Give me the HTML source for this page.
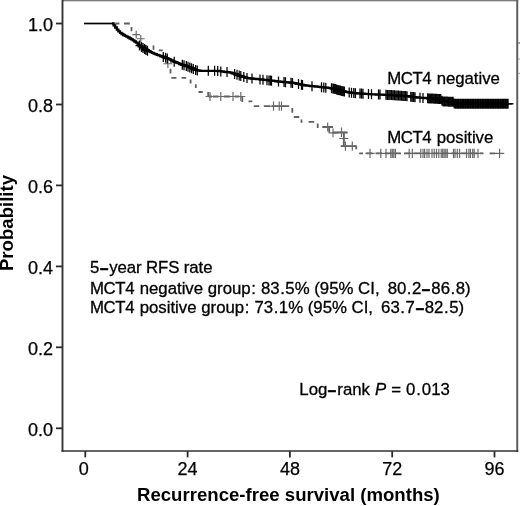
<!DOCTYPE html>
<html><head><meta charset="utf-8"><title>Recurrence-free survival</title>
<style>
html,body{margin:0;padding:0;background:#fff;}
body{width:520px;height:506px;position:relative;overflow:hidden;font-family:"Liberation Sans",sans-serif;color:#000;}
.t{position:absolute;white-space:nowrap;line-height:1;}
.yl{font-size:18px;-webkit-text-stroke:0.25px #000;width:53px;text-align:right;left:0;}
.xl{font-size:18px;-webkit-text-stroke:0.25px #000;width:40px;text-align:center;}
.in{font-size:16.8px;-webkit-text-stroke:0.3px #000;}
.h{display:inline-block;width:10px;text-align:center;transform:scale(1.85,1.4);}
.c{margin-right:3.4px;}
.m{letter-spacing:-0.4px;margin-right:0.9px;}
.p{margin:0 0.5px;}
.k{margin:0 0.4px 0 0.6px;}
.in2{font-size:16.5px;}
.b{font-weight:bold;font-size:18.6px;}
</style></head><body>
<svg width="520" height="506" viewBox="0 0 520 506" style="position:absolute;left:0;top:0">
<rect x="62" y="0" width="456.2" height="1.35" fill="#7c7c7c"/>
<path d="M517.25,0 V452" fill="none" stroke="#585858" stroke-width="1.9"/>
<path d="M62.5,0 V451.7" fill="none" stroke="#353535" stroke-width="1.9"/>
<path d="M61.55,451 H518.2" fill="none" stroke="#303030" stroke-width="1.5"/>
<path d="M518.3,43 H520" stroke="#444" stroke-width="1.2"/><path d="M518.3,59 H520 M518.3,73.3 H520" stroke="#999" stroke-width="1"/>
<path d="M56,428.3 H62.5" stroke="#2a2a2a" stroke-width="1.8"/>
<path d="M56,347.3 H62.5" stroke="#2a2a2a" stroke-width="1.8"/>
<path d="M56,266.4 H62.5" stroke="#2a2a2a" stroke-width="1.8"/>
<path d="M56,185.4 H62.5" stroke="#2a2a2a" stroke-width="1.8"/>
<path d="M56,104.5 H62.5" stroke="#2a2a2a" stroke-width="1.8"/>
<path d="M56,23.5 H62.5" stroke="#2a2a2a" stroke-width="1.8"/>
<path d="M85.3,451.2 V457.4" stroke="#2a2a2a" stroke-width="1.8"/>
<path d="M187.6,451.2 V457.4" stroke="#2a2a2a" stroke-width="1.8"/>
<path d="M289.9,451.2 V457.4" stroke="#2a2a2a" stroke-width="1.8"/>
<path d="M392.2,451.2 V457.4" stroke="#2a2a2a" stroke-width="1.8"/>
<path d="M494.5,451.2 V457.4" stroke="#2a2a2a" stroke-width="1.8"/>
<path d="M115.2,23.5H119.4M124.0,23.5H129.8M158.7,50.3H162.8M171.3,77.8H176.5M181.6,77.9H186.2M198.5,92.0H202.8M208.5,96.5H212.0M213.0,96.5H218.5M223.8,96.5H230.0M234.6,96.5H239.2M248.5,101.4H252.3M253.8,106.2H259.2M263.8,106.2H270.0M271.5,106.2H289.2M293.8,117.0H299.2M308.5,121.8H314.2M322.3,127.0H333.0M333.0,132.5H347.7M340.8,146.2H356.0M359.2,153.3H363.0M489.6,153.3H495.0M366.0,153.3H372.5M375.5,153.3H382.0M385.0,153.3H391.5M394.5,153.3H401.0M404.0,153.3H410.5M413.5,153.3H420.0M423.0,153.3H429.5M432.5,153.3H439.0M442.0,153.3H448.5M451.5,153.3H458.0M461.0,153.3H467.5M470.5,153.3H477.0M480.0,153.3H483.5M131.5,27.1V31.2M153.5,45.4V49.7M170.5,68.8V73.5M190.6,79.6V83.5M195.8,84.2V88.0M208.2,92.0V96.3M242.3,96.5V102.0M292.3,108.0V112.7M301.5,119.6V122.7M317.7,123.5V128.0M329.2,127.0V132.5M343.8,133.0V146.0M356.2,145.4V149.2" fill="none" stroke="#606060" stroke-width="1.8"/>
<path d="M136.2,30.8V38.4M132.4,34.6H140.0M140.8,34.9V42.5M137.0,38.7H144.6M167.9,59.3V68.1M163.5,63.7H172.3M210.0,92.0V101.0M205.5,96.5H214.5M220.8,92.0V101.0M216.3,96.5H225.3M233.0,92.0V101.0M228.5,96.5H237.5M240.8,92.0V101.0M236.3,96.5H245.3M273.5,101.6V110.8M268.9,106.2H278.1M279.2,101.6V110.8M274.6,106.2H283.8M281.5,101.6V110.8M276.9,106.2H286.1M327.7,122.4V131.6M323.1,127.0H332.3M333.0,128.4V137.2M328.6,132.8H337.4M341.5,127.5V137.1M336.7,132.3H346.3M343.8,133.9V143.1M339.2,138.5H348.4M345.4,141.6V150.8M340.8,146.2H350.0M352.3,141.6V150.8M347.7,146.2H356.9M370.0,148.7V157.9M365.4,153.3H374.6M380.8,148.7V157.9M376.2,153.3H385.4M386.0,148.7V157.9M381.4,153.3H390.6M390.8,148.7V157.9M386.2,153.3H395.4M392.3,148.7V157.9M387.7,153.3H396.9M393.8,148.7V157.9M389.2,153.3H398.4M395.4,148.7V157.9M390.8,153.3H400.0M409.2,148.7V157.9M404.6,153.3H413.8M412.3,148.7V157.9M407.7,153.3H416.9M420.8,148.7V157.9M416.2,153.3H425.4M423.0,148.7V157.9M418.4,153.3H427.6M424.6,148.7V157.9M420.0,153.3H429.2M427.0,148.7V157.9M422.4,153.3H431.6M429.0,148.7V157.9M424.4,153.3H433.6M432.0,148.7V157.9M427.4,153.3H436.6M434.2,148.7V157.9M429.6,153.3H438.8M436.5,148.7V157.9M431.9,153.3H441.1M438.8,148.7V157.9M434.2,153.3H443.4M441.2,148.7V157.9M436.6,153.3H445.8M442.7,148.7V157.9M438.1,153.3H447.3M444.2,148.7V157.9M439.6,153.3H448.8M445.8,148.7V157.9M441.2,153.3H450.4M447.3,148.7V157.9M442.7,153.3H451.9M453.5,148.7V157.9M448.9,153.3H458.1M455.0,148.7V157.9M450.4,153.3H459.6M457.3,148.7V157.9M452.7,153.3H461.9M459.6,148.7V157.9M455.0,153.3H464.2M466.5,148.7V157.9M461.9,153.3H471.1M468.8,148.7V157.9M464.2,153.3H473.4M470.4,148.7V157.9M465.8,153.3H475.0M472.7,148.7V157.9M468.1,153.3H477.3M474.2,148.7V157.9M469.6,153.3H478.8M478.0,148.7V157.9M473.4,153.3H482.6M499.6,148.7V157.9M495.0,153.3H504.2" fill="none" stroke="#666" stroke-width="1.15"/>
<path d="M84,23.5 H112.5" fill="none" stroke="#000" stroke-width="1.7"/>
<path d="M112.0,23.5 L113.6,23.5 L113.6,25.3 L115.2,25.3 L115.2,27.5 L116.8,27.5 L116.8,29.7 L118.4,29.7 L118.4,31.3 L120.0,31.3 L120.0,32.9 L121.6,32.9 L121.6,34.0 L123.2,34.0 L123.2,35.0 L124.8,35.0 L124.8,35.9 L126.4,35.9 L126.4,36.7 L128.0,36.7 L128.0,37.5 L129.6,37.5 L129.6,38.5 L131.2,38.5 L131.2,39.4 L132.8,39.4 L132.8,40.4 L134.4,40.4 L134.4,41.5 L136.0,41.5 L136.0,42.7 L137.6,42.7 L137.6,44.0 L139.2,44.0 L139.2,45.3 L140.8,45.3 L140.8,46.4 L142.4,46.4 L142.4,47.5 L144.0,47.5 L144.0,48.6 L145.6,48.6 L145.6,49.7 L147.2,49.7 L147.2,50.5 L148.8,50.5 L148.8,51.4 L150.4,51.4 L150.4,52.2 L152.0,52.2 L152.0,52.9 L153.6,52.9 L153.6,53.6 L155.2,53.6 L155.2,54.2 L156.8,54.2 L156.8,54.9 L158.4,54.9 L158.4,55.4 L160.0,55.4 L160.0,55.8 L161.6,55.8 L161.6,56.2 L163.2,56.2 L163.2,56.9 L164.8,56.9 L164.8,57.5 L166.4,57.5 L166.4,58.1 L168.0,58.1 L168.0,58.8 L169.6,58.8 L169.6,59.6 L171.2,59.6 L171.2,60.4 L172.8,60.4 L172.8,61.2 L174.4,61.2 L174.4,61.9 L176.0,61.9 L176.0,62.5 L177.6,62.5 L177.6,63.2 L179.2,63.2 L179.2,63.8 L180.8,63.8 L180.8,64.3 L182.4,64.3 L182.4,64.8 L184.0,64.8 L184.0,65.2 L185.6,65.2 L185.6,65.8 L187.2,65.8 L187.2,66.4 L188.8,66.4 L188.8,67.1 L190.4,67.1 L190.4,67.7 L192.0,67.7 L192.0,68.4 L193.6,68.4 L193.6,69.1 L195.2,69.1 L195.2,69.8 L196.8,69.8 L196.8,70.3 L198.4,70.3 L198.4,70.6 L200.0,70.6 L200.0,70.8 L201.6,70.8 L201.6,70.8 L203.2,70.8 L203.2,70.8 L204.8,70.8 L204.8,70.8 L206.4,70.8 L206.4,70.8 L208.0,70.8 L208.0,70.8 L209.6,70.8 L209.6,70.8 L211.2,70.8 L211.2,70.8 L212.8,70.8 L212.8,70.8 L214.4,70.8 L214.4,70.8 L216.0,70.8 L216.0,70.8 L217.6,70.8 L217.6,71.0 L219.2,71.0 L219.2,71.2 L220.8,71.2 L220.8,71.4 L222.4,71.4 L222.4,71.6 L224.0,71.6 L224.0,71.8 L225.6,71.8 L225.6,72.0 L227.2,72.0 L227.2,72.2 L228.8,72.2 L228.8,72.4 L230.4,72.4 L230.4,72.6 L232.0,72.6 L232.0,72.9 L233.6,72.9 L233.6,73.5 L235.2,73.5 L235.2,74.1 L236.8,74.1 L236.8,74.7 L238.4,74.7 L238.4,75.3 L240.0,75.3 L240.0,75.8 L241.6,75.8 L241.6,76.3 L243.2,76.3 L243.2,76.8 L244.8,76.8 L244.8,77.3 L246.4,77.3 L246.4,77.8 L248.0,77.8 L248.0,78.2 L249.6,78.2 L249.6,78.4 L251.2,78.4 L251.2,78.5 L252.8,78.5 L252.8,78.7 L254.4,78.7 L254.4,78.9 L256.0,78.9 L256.0,79.0 L257.6,79.0 L257.6,79.2 L259.2,79.2 L259.2,79.3 L260.8,79.3 L260.8,79.5 L262.4,79.5 L262.4,79.6 L264.0,79.6 L264.0,79.8 L265.6,79.8 L265.6,80.0 L267.2,80.0 L267.2,80.2 L268.8,80.2 L268.8,80.4 L270.4,80.4 L270.4,80.6 L272.0,80.6 L272.0,80.7 L273.6,80.7 L273.6,80.9 L275.2,80.9 L275.2,81.1 L276.8,81.1 L276.8,81.3 L278.4,81.3 L278.4,81.5 L280.0,81.5 L280.0,81.6 L281.6,81.6 L281.6,81.8 L283.2,81.8 L283.2,82.0 L284.8,82.0 L284.8,82.1 L286.4,82.1 L286.4,82.3 L288.0,82.3 L288.0,82.4 L289.6,82.4 L289.6,82.6 L291.2,82.6 L291.2,82.7 L292.8,82.7 L292.8,82.9 L294.4,82.9 L294.4,83.1 L296.0,83.1 L296.0,83.5 L297.6,83.5 L297.6,83.8 L299.2,83.8 L299.2,84.2 L300.8,84.2 L300.8,84.6 L302.4,84.6 L302.4,84.9 L304.0,84.9 L304.0,85.3 L305.6,85.3 L305.6,85.5 L307.2,85.5 L307.2,85.7 L308.8,85.7 L308.8,85.8 L310.4,85.8 L310.4,86.0 L312.0,86.0 L312.0,86.2 L313.6,86.2 L313.6,86.3 L315.2,86.3 L315.2,86.5 L316.8,86.5 L316.8,86.7 L318.4,86.7 L318.4,86.8 L320.0,86.8 L320.0,87.0 L321.6,87.0 L321.6,87.2 L323.2,87.2 L323.2,87.4 L324.8,87.4 L324.8,87.6 L326.4,87.6 L326.4,87.7 L328.0,87.7 L328.0,87.9 L329.6,87.9 L329.6,88.1 L331.2,88.1 L331.2,88.3 L332.8,88.3 L332.8,88.5 L334.4,88.5 L334.4,88.9 L336.0,88.9 L336.0,89.3 L337.6,89.3 L337.6,89.8 L339.2,89.8 L339.2,90.2 L340.8,90.2 L340.8,90.7 L342.4,90.7 L342.4,91.1 L344.0,91.1 L344.0,91.5 L345.6,91.5 L345.6,91.8 L347.2,91.8 L347.2,92.1 L348.8,92.1 L348.8,92.3 L350.4,92.3 L350.4,92.6 L352.0,92.6 L352.0,92.8 L353.6,92.8 L353.6,93.0 L355.2,93.0 L355.2,93.2 L356.8,93.2 L356.8,93.3 L358.4,93.3 L358.4,93.4 L360.0,93.4 L360.0,93.5 L361.6,93.5 L361.6,93.6 L363.2,93.6 L363.2,93.7 L364.8,93.7 L364.8,93.8 L366.4,93.8 L366.4,93.9 L368.0,93.9 L368.0,94.1 L369.6,94.1 L369.6,94.2 L371.2,94.2 L371.2,94.3 L372.8,94.3 L372.8,94.3 L374.4,94.3 L374.4,94.4 L376.0,94.4 L376.0,94.5 L377.6,94.5 L377.6,94.5 L379.2,94.5 L379.2,94.6 L380.8,94.6 L380.8,94.7 L382.4,94.7 L382.4,94.7 L384.0,94.7 L384.0,94.8 L385.6,94.8 L385.6,94.8 L387.2,94.8 L387.2,94.9 L388.8,94.9 L388.8,95.0 L390.4,95.0 L390.4,95.0 L392.0,95.0 L392.0,95.1 L393.6,95.1 L393.6,95.2 L395.2,95.2 L395.2,95.4 L396.8,95.4 L396.8,95.5 L398.4,95.5 L398.4,95.6 L400.0,95.6 L400.0,95.7 L401.6,95.7 L401.6,95.8 L403.2,95.8 L403.2,95.9 L404.8,95.9 L404.8,96.0 L406.4,96.0 L406.4,96.1 L408.0,96.1 L408.0,96.2 L409.6,96.2 L409.6,96.4 L411.2,96.4 L411.2,96.8 L412.8,96.8 L412.8,97.1 L414.4,97.1 L414.4,97.2 L416.0,97.2 L416.0,97.3 L417.6,97.3 L417.6,97.5 L419.2,97.5 L419.2,97.6 L420.8,97.6 L420.8,97.8 L422.4,97.8 L422.4,97.9 L424.0,97.9 L424.0,98.0 L425.6,98.0 L425.6,98.2 L427.2,98.2 L427.2,98.3 L428.8,98.3 L428.8,98.4 L430.4,98.4 L430.4,98.5 L432.0,98.5 L432.0,98.6 L433.6,98.6 L433.6,98.6 L435.2,98.6 L435.2,98.7 L436.8,98.7 L436.8,98.8 L438.4,98.8 L438.4,98.9 L440.0,98.9 L440.0,99.0 L441.6,99.0 L441.6,100.0 L443.2,100.0 L443.2,101.5 L444.8,101.5 L444.8,101.6 L446.4,101.6 L446.4,101.6 L448.0,101.6 L448.0,101.7 L449.6,101.7 L449.6,101.7 L451.2,101.7 L451.2,101.7 L452.8,101.7 L452.8,101.8 L454.4,101.8 L454.4,103.7 L456.0,103.7 L456.0,103.8 L457.6,103.8 L457.6,103.8 L459.2,103.8 L459.2,103.8 L460.8,103.8 L460.8,103.8 L462.4,103.8 L462.4,103.8 L464.0,103.8 L464.0,103.8 L465.6,103.8 L465.6,103.8 L467.2,103.8 L467.2,103.8 L468.8,103.8 L468.8,103.8 L470.4,103.8 L470.4,103.8 L472.0,103.8 L472.0,103.8 L473.6,103.8 L473.6,103.8 L475.2,103.8 L475.2,103.8 L476.8,103.8 L476.8,103.8 L478.4,103.8 L478.4,103.8 L480.0,103.8 L480.0,103.8 L481.6,103.8 L481.6,103.8 L483.2,103.8 L483.2,103.8 L484.8,103.8 L484.8,103.8 L486.4,103.8 L486.4,103.8 L488.0,103.8 L488.0,103.8 L489.6,103.8 L489.6,103.8 L491.2,103.8 L491.2,103.8 L492.8,103.8 L492.8,103.8 L494.4,103.8 L494.4,103.8 L496.0,103.8 L496.0,103.8 L497.6,103.8 L497.6,103.8 L499.2,103.8 L499.2,103.8 L500.8,103.8 L500.8,103.8 L502.4,103.8 L502.4,103.8 L504.0,103.8 L504.0,103.8 L505.6,103.8 L505.6,103.8 L507.2,103.8 L507.2,103.8 L508.8,103.8 L508.8,103.8 L509.0,103.8 L509.0,103.8" fill="none" stroke="#000" stroke-width="2.3" stroke-linejoin="miter"/>
<path d="M508,103.8 H513.5" fill="none" stroke="#000" stroke-width="1.4"/>
<path d="M139.5,40.5V50.5M135.5,45.5H143.5M141.5,41.9V51.9M137.5,46.9H145.5M143.0,42.9V52.9M139.0,47.9H147.0M144.6,44.0V54.0M140.6,49.0H148.6M146.0,44.9V54.9M142.0,49.9H150.0M147.5,45.7V55.7M143.5,50.7H151.5M163.3,51.9V61.9M159.3,56.9H167.3M165.6,52.8V62.8M161.6,57.8H169.6M167.3,53.5V63.5M163.3,58.5H171.3M174.2,56.8V66.8M170.2,61.8H178.2M182.3,59.7V69.7M178.3,64.7H186.3M184.0,60.2V70.2M180.0,65.2H188.0M186.3,61.1V71.1M182.3,66.1H190.3M188.0,61.7V71.7M184.0,66.7H192.0M189.8,62.5V72.5M185.8,67.5H193.8M191.5,63.2V73.2M187.5,68.2H195.5M193.3,64.0V74.0M189.3,69.0H197.3M195.6,65.0V75.0M191.6,70.0H199.6M197.3,65.4V75.4M193.3,70.4H201.3M208.3,65.8V75.8M204.3,70.8H212.3M214.6,65.8V75.8M210.6,70.8H218.6M217.7,66.0V76.0M213.7,71.0H221.7M220.8,66.4V76.4M216.8,71.4H224.8M227.0,67.1V77.1M223.0,72.1H231.0M234.6,68.9V78.9M230.6,73.9H238.6M237.0,69.8V79.8M233.0,74.8H241.0M239.2,70.6V80.6M235.2,75.6H243.2M240.8,71.1V81.1M236.8,76.1H244.8M243.8,72.0V82.0M239.8,77.0H247.8M247.0,73.0V83.0M243.0,78.0H251.0M252.0,73.6V83.6M248.0,78.6H256.0M260.0,74.4V84.4M256.0,79.4H264.0M263.0,74.7V84.7M259.0,79.7H267.0M267.0,75.2V85.2M263.0,80.2H271.0M269.0,75.4V85.4M265.0,80.4H273.0M270.5,75.6V85.6M266.5,80.6H274.5M271.5,75.7V85.7M267.5,80.7H275.5M278.5,76.5V86.5M274.5,81.5H282.5M284.0,77.0V87.0M280.0,82.0H288.0M285.5,77.2V87.2M281.5,82.2H289.5M291.0,77.7V87.7M287.0,82.7H295.0M292.5,77.9V87.9M288.5,82.9H296.5M298.5,79.0V89.0M294.5,84.0H302.5M301.5,79.7V89.7M297.5,84.7H305.5M302.5,79.9V89.9M298.5,84.9H306.5M312.0,81.2V91.2M308.0,86.2H316.0M321.5,82.2V92.2M317.5,87.2H325.5M323.8,82.4V92.4M319.8,87.4H327.8M325.8,82.7V92.7M321.8,87.7H329.8M331.5,83.3V93.3M327.5,88.3H335.5M333.0,83.5V93.5M329.0,88.5H337.0M334.0,83.8V93.8M330.0,88.8H338.0M335.3,84.1V94.1M331.3,89.1H339.3M336.6,84.5V94.5M332.6,89.5H340.6M337.9,84.9V94.9M333.9,89.9H341.9M339.2,85.2V95.2M335.2,90.2H343.2M340.5,85.6V95.6M336.5,90.6H344.5M341.8,85.9V95.9M337.8,90.9H345.8M343.1,86.3V96.3M339.1,91.3H347.1M344.4,86.6V96.6M340.4,91.6H348.4M349.2,87.4V97.4M345.2,92.4H353.2M351.5,87.8V97.8M347.5,92.8H355.5M353.8,88.1V98.1M349.8,93.1H357.8M355.4,88.2V98.2M351.4,93.2H359.4M360.0,88.5V98.5M356.0,93.5H364.0M361.5,88.6V98.6M357.5,93.6H365.5M363.0,88.7V98.7M359.0,93.7H367.0M368.5,89.1V99.1M364.5,94.1H372.5M371.5,89.3V99.3M367.5,94.3H375.5M378.5,89.6V99.6M374.5,94.6H382.5M380.0,89.6V99.6M376.0,94.6H384.0M386.0,89.8V99.8M382.0,94.8H390.0M387.4,89.9V99.9M383.4,94.9H391.4M388.8,90.0V100.0M384.8,95.0H392.8M390.2,90.0V100.0M386.2,95.0H394.2M391.6,90.1V100.1M387.6,95.1H395.6M393.0,90.2V100.2M389.0,95.2H397.0M394.4,90.3V100.3M390.4,95.3H398.4M395.8,90.4V100.4M391.8,95.4H399.8M397.2,90.5V100.5M393.2,95.5H401.2M398.6,90.6V100.6M394.6,95.6H402.6M400.0,90.7V100.7M396.0,95.7H404.0M401.4,90.8V100.8M397.4,95.8H405.4M402.8,90.9V100.9M398.8,95.9H406.8M404.2,91.0V101.0M400.2,96.0H408.2M405.6,91.1V101.1M401.6,96.1H409.6M407.0,91.2V101.2M403.0,96.2H411.0M410.8,91.7V101.7M406.8,96.7H414.8M412.2,92.0V102.0M408.2,97.0H416.2M413.6,92.1V102.1M409.6,97.1H417.6M415.0,92.3V102.3M411.0,97.3H419.0M420.0,92.7V102.7M416.0,97.7H424.0M423.0,93.0V103.0M419.0,98.0H427.0M427.7,93.3V103.3M423.7,98.3H431.7M429.0,93.4V103.4M425.0,98.4H433.0M430.3,93.5V103.5M426.3,98.5H434.3M431.6,93.5V103.5M427.6,98.5H435.6M432.9,93.6V103.6M428.9,98.6H436.9M434.2,93.7V103.7M430.2,98.7H438.2M435.5,93.7V103.7M431.5,98.7H439.5M436.8,93.8V103.8M432.8,98.8H440.8M438.1,93.9V103.9M434.1,98.9H442.1M439.4,93.9V103.9M435.4,98.9H443.4M440.7,94.0V104.0M436.7,99.0H444.7M442.0,95.7V105.7M438.0,100.7H446.0M443.3,96.5V106.5M439.3,101.5H447.3M444.6,96.6V106.6M440.6,101.6H448.6M445.9,96.6V106.6M441.9,101.6H449.9M447.2,96.6V106.6M443.2,101.6H451.2M448.5,96.7V106.7M444.5,101.7H452.5M449.8,96.7V106.7M445.8,101.7H453.8M451.1,96.7V106.7M447.1,101.7H455.1M452.4,96.8V106.8M448.4,101.8H456.4M453.0,96.8V106.8M449.0,101.8H457.0M454.2,98.5V108.5M450.2,103.5H458.2M455.5,98.8V108.8M451.5,103.8H459.5M456.8,98.8V108.8M452.8,103.8H460.8M458.0,98.8V108.8M454.0,103.8H462.0M459.2,98.8V108.8M455.2,103.8H463.2M460.5,98.8V108.8M456.5,103.8H464.5M461.8,98.8V108.8M457.8,103.8H465.8M463.0,98.8V108.8M459.0,103.8H467.0M464.2,98.8V108.8M460.2,103.8H468.2M465.5,98.8V108.8M461.5,103.8H469.5M466.8,98.8V108.8M462.8,103.8H470.8M468.0,98.8V108.8M464.0,103.8H472.0M469.2,98.8V108.8M465.2,103.8H473.2M470.5,98.8V108.8M466.5,103.8H474.5M471.8,98.8V108.8M467.8,103.8H475.8M473.0,98.8V108.8M469.0,103.8H477.0M474.2,98.8V108.8M470.2,103.8H478.2M475.5,98.8V108.8M471.5,103.8H479.5M476.8,98.8V108.8M472.8,103.8H480.8M478.0,98.8V108.8M474.0,103.8H482.0M479.2,98.8V108.8M475.2,103.8H483.2M480.5,98.8V108.8M476.5,103.8H484.5M481.8,98.8V108.8M477.8,103.8H485.8M483.0,98.8V108.8M479.0,103.8H487.0M484.2,98.8V108.8M480.2,103.8H488.2M485.5,98.8V108.8M481.5,103.8H489.5M486.8,98.8V108.8M482.8,103.8H490.8M488.0,98.8V108.8M484.0,103.8H492.0M489.2,98.8V108.8M485.2,103.8H493.2M490.5,98.8V108.8M486.5,103.8H494.5M491.8,98.8V108.8M487.8,103.8H495.8M493.0,98.8V108.8M489.0,103.8H497.0M494.2,98.8V108.8M490.2,103.8H498.2M495.5,98.8V108.8M491.5,103.8H499.5M496.8,98.8V108.8M492.8,103.8H500.8M498.0,98.8V108.8M494.0,103.8H502.0M499.2,98.8V108.8M495.2,103.8H503.2M500.5,98.8V108.8M496.5,103.8H504.5M501.8,98.8V108.8M497.8,103.8H505.8M503.0,98.8V108.8M499.0,103.8H507.0M504.2,98.8V108.8M500.2,103.8H508.2M505.5,98.8V108.8M501.5,103.8H509.5M506.8,98.8V108.8M502.8,103.8H510.8M508.0,98.8V108.8M504.0,103.8H512.0" fill="none" stroke="#000" stroke-width="1.25"/>
</svg>
<div class="t yl" style="top:16.2px">1.0</div>
<div class="t yl" style="top:97.2px">0.8</div>
<div class="t yl" style="top:178.1px">0.6</div>
<div class="t yl" style="top:259.1px">0.4</div>
<div class="t yl" style="top:340.0px">0.2</div>
<div class="t yl" style="top:421.0px">0.0</div>
<div class="t xl" style="left:63.8px;top:459.5px">0</div>
<div class="t xl" style="left:167.6px;top:459.5px">24</div>
<div class="t xl" style="left:269.9px;top:459.5px">48</div>
<div class="t xl" style="left:372.2px;top:459.5px">72</div>
<div class="t xl" style="left:474.5px;top:459.5px">96</div>
<div class="t in" style="left:387.2px;top:71.05px;letter-spacing:-0.06px"><span class="m">MCT4</span> negative</div>
<div class="t in" style="left:387.2px;top:130.1px;letter-spacing:-0.06px"><span class="m">MCT4</span> positive</div>
<div class="t in" style="left:90px;top:260.45px;letter-spacing:-0.1px">5<span class="h">-</span>year RFS rate</div>
<div class="t in" style="left:90px;top:280.75px"><span class="m">MCT4</span> negative group<span class="k">:</span> 83<span class="p">.</span>5% (95% CI<span class="c">,</span> 80<span class="p">.</span>2<span class="h">-</span>86<span class="p">.</span>8)</div>
<div class="t in" style="left:90px;top:300.3px"><span class="m">MCT4</span> positive group<span class="k">:</span> 73<span class="p">.</span>1% (95% CI<span class="c">,</span> 63<span class="p">.</span>7<span class="h">-</span>82<span class="p">.</span>5)</div>
<div class="t in" style="left:299.3px;top:382.4px;word-spacing:0.35px">Log<span class="h">-</span>rank <i>P</i> = 0<span class="p" style="margin:0 0.9px">.</span>013</div>
<div class="t b" style="left:137px;top:486.6px;font-size:17.6px;transform:scaleX(1.057);transform-origin:0 0">Recurrence-free survival (months)</div>
<div class="t b" id="prob" style="left:8.3px;top:222.5px;font-size:17.6px;transform:translate(-50%,-50%) rotate(-90deg) scaleX(1.057);">Probability</div>
</body></html>
